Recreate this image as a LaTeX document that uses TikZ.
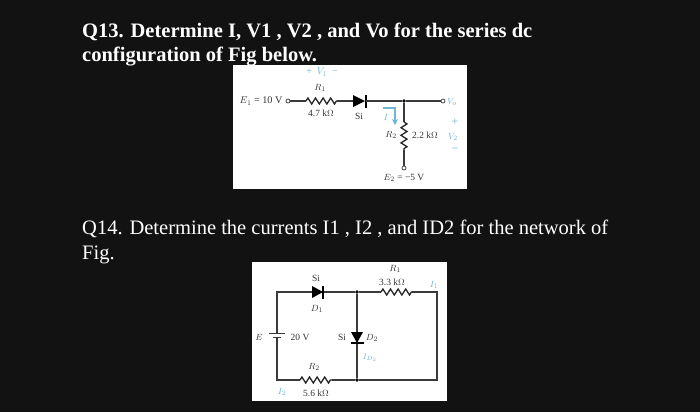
\documentclass[tikz,border=0pt]{standalone}
\usepackage{fontspec}
\setmainfont{Liberation Serif}
\usetikzlibrary{decorations.pathmorphing,arrows.meta}
\definecolor{wirec}{HTML}{3A3A3A}
\definecolor{lblue}{HTML}{6FB4D2}
\newcommand{\fs}[1]{\fontsize{#1}{#1}\selectfont}
\tikzset{
  wire/.style={draw=wirec,line width=1.1bp},
  res/.style={draw=black!85,line width=1.3bp,decorate,decoration={zigzag,segment length=7.6bp,amplitude=3bp}},
  term/.style={circle,draw=wirec,fill=white,line width=0.7bp,inner sep=0pt,minimum size=4bp},
  dot/.style={circle,fill=black,inner sep=0pt,minimum size=3.8bp},
  lab/.style={inner sep=0pt,text=black!80,font=\fs{9.5}},
  blab/.style={inner sep=0pt,text=lblue,font=\fs{9.5}},
  titleb/.style={inner sep=0pt,anchor=base west,text=white,font=\fs{20.6}\bfseries},
  titler/.style={inner sep=0pt,anchor=base west,text=white,font=\fs{20.6}},
  panel/.style={fill=white,draw=none},
}
\begin{document}
\begin{tikzpicture}[x=1bp,y=-1bp]
\useasboundingbox (0,0) rectangle (700,412);
\fill[black!93] (0,0) rectangle (700,412);
\fill[panel] (233,65) rectangle (467,189);
\fill[panel] (252,262) rectangle (447,401);

% ---- first circuit
\node[term] (t1) at (288,101) {};
\coordinate (r1a) at (306,101);
\coordinate (r1b) at (337,101);
\coordinate (d1a) at (353,101);
\coordinate (d1b) at (366,101);
\node[dot] (j1) at (404,101) {};
\node[term] (t2) at (443,101) {};
\coordinate (r2a) at (404,122);
\coordinate (r2b) at (404,150);
\node[term] (t3) at (404,168) {};
\draw[wire] (t1) -- (r1a);
\draw[res] (r1a) -- (r1b);
\draw[wire] (r1b) -- (d1a);
\fill (d1a) ++(0,-6) -- ++(12,6) -- ++(-12,6) -- cycle;
\draw[line width=1.5bp] (d1b) ++(0,-6.5) -- ++(0,13);
\draw[wire] (d1b) -- (j1) -- (t2);
\draw[wire] (j1) -- (r2a);
\draw[res] (r2a) -- (r2b);
\draw[wire] (r2b) -- (t3);
\coordinate (ia) at (383,108);
\coordinate (ib) at (395,108);
\coordinate (ic) at (395,125);
\draw[lblue,line width=1.2bp,-{Stealth[length=6bp,width=6bp]}] (ia) -- (ib) -- (ic);

\node[lab,font=\fs{10.2}] (e1) at (261,101) {$E_1$ = 10 V};
\node[blab,font=\fs{10}] (v1l) at (322,72) {+\ \ $V_1$\ \ −};
\node[lab] (r1l) at (320,88) {$R_1$};
\node[lab] (r1v) at (321,113) {4.7 k$\Omega$};
\node[lab] (si1) at (359,116) {Si};
\node[blab] (il) at (386,117) {$I$};
\node[lab] (r2l) at (391,135) {$R_2$};
\node[lab] (r2v) at (425,135) {2.2 k$\Omega$};
\node[lab] (e2) at (404,178) {$E_2$ = −5 V};
\node[blab] (vo) at (452,102) {$V_o$};
\node[blab,font=\fs{12}] (pl) at (455,122) {+};
\node[blab] (v2) at (453,137) {$V_2$};
\node[blab,font=\fs{12}] (mi) at (455,150) {−};

% ---- second circuit
\coordinate (tl) at (277,292);
\coordinate (bl) at (277,380);
\coordinate (tr) at (437,292);
\coordinate (br) at (437,380);
\node[dot] (jt) at (357,292) {};
\node[dot] (jb) at (357,380) {};
\coordinate (d3a) at (312,292);
\coordinate (d3b) at (323,292);
\coordinate (r3a) at (381,292);
\coordinate (r3b) at (412,292);
\coordinate (r4a) at (300,380);
\coordinate (r4b) at (332,380);
\coordinate (ba) at (277,333.5);
\coordinate (bb) at (277,337.5);
\coordinate (d4a) at (357,332);
\coordinate (d4b) at (357,343);
\draw[wire] (bb) -- (bl) -- (r4a);
\draw[res] (r4a) -- (r4b);
\draw[wire] (r4b) -- (jb) -- (br) -- (tr) -- (r3b);
\draw[res] (r3a) -- (r3b);
\draw[wire] (r3a) -- (jt) -- (d3b);
\draw[wire] (d3a) -- (tl) -- (ba);
\fill (d3a) ++(0,-6) -- ++(11,6) -- ++(-11,6) -- cycle;
\draw[line width=1.5bp] (d3b) ++(0,-6.5) -- ++(0,13);
\draw[wire] (jt) -- (d4a);
\draw[wire] (d4b) -- (jb);
\fill (d4a) ++(-6,0) -- ++(12,0) -- ++(-6,11) -- cycle;
\draw[line width=1.5bp] (d4b) ++(-6.5,0) -- ++(13,0);
\draw[line width=1bp,wirec] (ba) ++(-8,0) -- ++(16,0);
\draw[line width=1.5bp,wirec] (bb) ++(-4,0) -- ++(8,0);

\node[lab] (si3) at (316,278) {Si};
\node[lab] (d1l) at (317,309) {$D_1$};
\node[lab] (r3l) at (395,269) {$R_1$};
\node[lab] (r3v) at (392,282) {3.3 k$\Omega$};
\node[blab] (i1l) at (434,285) {$I_1$};
\node[lab] (el) at (259,337) {$E$};
\node[lab] (vb) at (300,337) {20 V};
\node[lab] (si4) at (342,337) {Si};
\node[lab] (d2l) at (372,338) {$D_2$};
\node[blab,font=\fs{8}] (idl) at (370,358) {$I_{D_2}$};
\node[lab] (r4l) at (314,367) {$R_2$};
\node[lab] (r4v) at (316,393) {5.6 k$\Omega$};
\node[blab] (i2l) at (282,392) {$I_2$};

% ---- text
\node[titleb] (q1) at (82,37) {Q13. Determine I, V1 , V2 , and Vo for the series dc};
\node[titleb] (q2) at (82,61) {configuration of Fig below.};
\node[titler] (q3) at (82,234) {Q14. Determine the currents I1 , I2 , and ID2 for the network of};
\node[titler] (q4) at (82,259) {Fig.};
\end{tikzpicture}
\end{document}
